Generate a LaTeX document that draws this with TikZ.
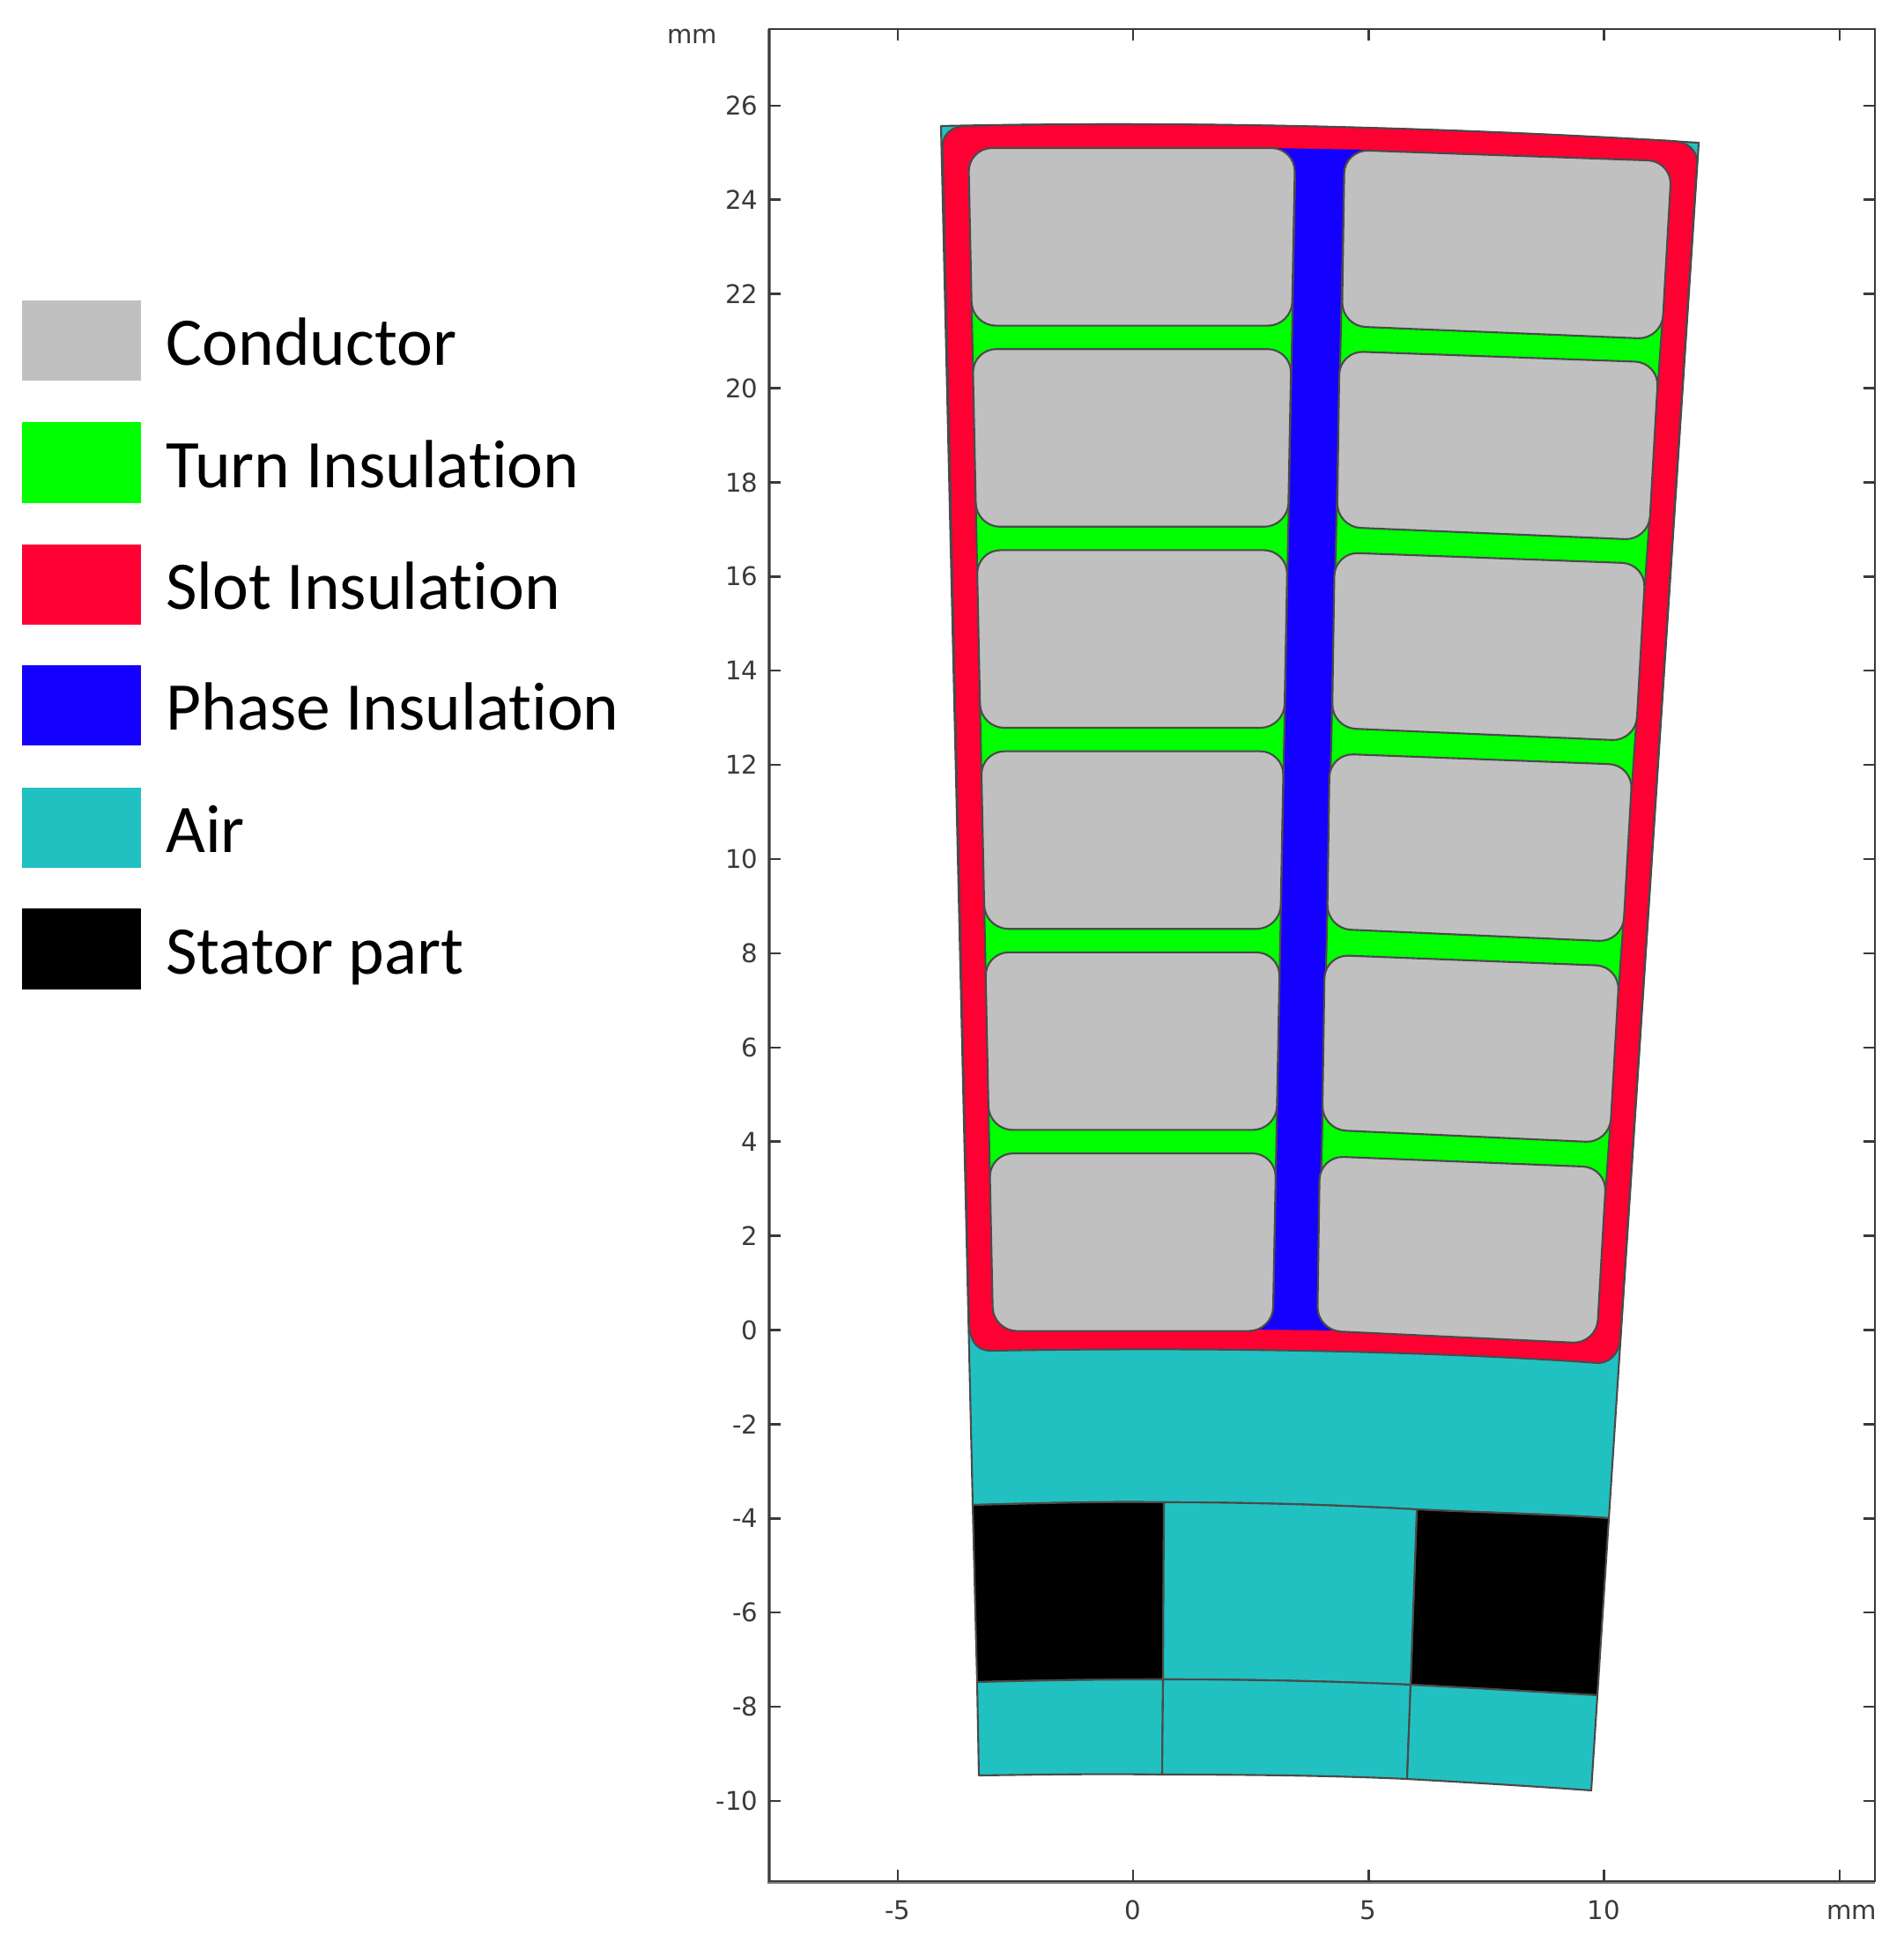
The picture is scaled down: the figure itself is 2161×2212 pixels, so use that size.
\documentclass[tikz,border=0pt]{standalone}
\usepackage{fontspec}
\usetikzlibrary{positioning}
\newfontfamily\legendfont[Ligatures=NoCommon]{Carlito}
\newfontfamily\axisfont{DejaVu Sans}
\definecolor{condgray}{HTML}{C0C0C0}
\definecolor{turngreen}{HTML}{00FF00}
\definecolor{slotred}{HTML}{FF0033}
\definecolor{phaseblue}{HTML}{1400FF}
\definecolor{aircyan}{HTML}{21C1C2}
\definecolor{edgegray}{HTML}{4A4A4A}
\definecolor{axisgray}{HTML}{3A3A3A}
\begin{document}
\begin{tikzpicture}[x=0.01cm,y=-0.01cm]
\tikzset{swatch/.style={inner sep=0pt,minimum width=1.35cm,minimum height=0.91cm},
         legtext/.style={inner sep=0pt,yshift=-0.04cm,font=\legendfont\fontsize{22pt}{26}\selectfont,text height=13.7pt,text depth=0pt},
         ticklab/.style={inner sep=0pt,text=axisgray,font=\axisfont\fontsize{8.3pt}{10}\selectfont},
         region/.style={draw=edgegray,line width=0.6pt,line join=round},
         turn/.style={fill=condgray,region,rounded corners=0.27cm}}
\useasboundingbox (0,0) rectangle (2161,2212);

        % legend
        \node[swatch,fill=condgray]                (sw1) at (92.5,386.5) {};
        \node[legtext,right=0.27cm of sw1]         (t1)                  {Conductor};
        \node[swatch,fill=turngreen]               (sw2) at (92.5,525)   {};
        \node[legtext,right=0.27cm of sw2]         (t2)                  {Turn Insulation};
        \node[swatch,fill=slotred]                 (sw3) at (92.5,663.5) {};
        \node[legtext,right=0.27cm of sw3]         (t3)                  {Slot Insulation};
        \node[swatch,fill=phaseblue]               (sw4) at (92.5,800.5) {};
        \node[legtext,right=0.27cm of sw4]         (t4)                  {Phase Insulation};
        \node[swatch,fill=aircyan]                 (sw5) at (92.5,939.5) {};
        \node[legtext,right=0.27cm of sw5]         (t5)                  {Air};
        \node[swatch,fill=black]                   (sw6) at (92.5,1077)  {};
        \node[legtext,right=0.27cm of sw6]         (t6)                  {Stator part};

        % axes
        \draw[gray,line width=1.2pt] (873,33) -- (873,2136) -- (2128,2136);
        \draw[axisgray,line width=0.7pt] (873,33) rectangle (2128,2135);
        \foreach \yv in {26,24,...,-10}{
            \pgfmathsetmacro{\ypos}{1509.5-53.45*\yv}
            \draw[axisgray,line width=0.7pt] (873,\ypos) -- (886,\ypos);
            \draw[axisgray,line width=0.7pt] (2128,\ypos) -- (2115,\ypos);
            \node[ticklab,anchor=east] (yl\yv) at (861,\ypos) {\yv};
        }
        \foreach \xv in {-5,0,5,10,15}{
            \pgfmathsetmacro{\xpos}{1286+53.45*\xv}
            \draw[axisgray,line width=0.7pt] (\xpos,33) -- (\xpos,46);
            \draw[axisgray,line width=0.7pt] (\xpos,2135) -- (\xpos,2122);
        }
        \foreach \xv in {-5,0,5,10}{
            \pgfmathsetmacro{\xpos}{1286+53.45*\xv}
            \node[ticklab] (xl\xv) at (\xpos,2168) {\xv};
        }
        \node[ticklab,anchor=east] (xunit) at (2131,2170) {mm};
        \node[ticklab,anchor=east] (yunit) at (815,41)    {mm};

        % air behind the slot
        \path[fill=aircyan,region] (1068,143) .. controls (1350,137) and (1640,145) .. (1928,162)
            -- (1826,1723) .. controls (1756,1718) and (1686,1717) .. (1608,1713)
            .. controls (1518,1708) and (1420,1705) .. (1321,1705)
            .. controls (1250,1704) and (1180,1706) .. (1104,1708) -- cycle;

        % slot insulation
        \path[fill=slotred,region] (1070,168) .. controls (1069,154) and (1078,144) .. (1095,143)
            .. controls (1360,137) and (1640,145) .. (1898,160)
            .. controls (1915,161) and (1927,170) .. (1926,186)
            -- (1839,1518) .. controls (1838,1532) and (1832,1545) .. (1815,1547)
            .. controls (1650,1535) and (1400,1528) .. (1125,1533)
            .. controls (1110,1533) and (1102,1524) .. (1100,1506) -- cycle;

        % turn insulation between the conductors
        \foreach \i in {0,...,4}{
            \pgfmathsetmacro{\ya}{168+228.2*\i+201.6-30}
            \pgfmathsetmacro{\yb}{168+228.2*(\i+1)+30}
            \pgfmathsetmacro{\xal}{1099+0.021*(\ya-168)}
            \pgfmathsetmacro{\xar}{1470-0.019*(\ya-168)}
            \pgfmathsetmacro{\xbl}{1099+0.021*(\yb-168)}
            \pgfmathsetmacro{\xbr}{1470-0.019*(\yb-168)}
            \path[fill=turngreen] (\xal,\ya) -- (\xar,\ya) -- (\xbr,\yb) -- (\xbl,\yb) -- cycle;
            \draw[edgegray,line width=0.6pt] (\xal,\ya) -- (\xbl,\yb);
            \pgfmathsetmacro{\rla}{1523-5.6*\i}
            \pgfmathsetmacro{\rya}{370+228*\i-30}
            \pgfmathsetmacro{\rra}{1886-14.8*\i+1.4}
            \pgfmathsetmacro{\rza}{385+228*\i-30}
            \pgfmathsetmacro{\rlb}{1526-5.6*(\i+1)}
            \pgfmathsetmacro{\ryb}{170+228.4*(\i+1)+30}
            \pgfmathsetmacro{\rrb}{1897.5-14.8*(\i+1)-1.4}
            \pgfmathsetmacro{\rzb}{183+228.4*(\i+1)+30}
            \path[fill=turngreen] (\rla,\rya) -- (\rra,\rza) -- (\rrb,\rzb) -- (\rlb,\ryb) -- cycle;
            \draw[edgegray,line width=0.6pt] (\rra,\rza) -- (\rrb,\rzb);
        }

        % phase insulation
        \path[fill=phaseblue] (1440,168) -- (1556,170) -- (1556,198) -- (1526,198) -- (1496,1482)
            -- (1526,1482) -- (1526,1510) -- (1414,1509) -- (1414,1482) -- (1445,1482) -- (1470,198)
            -- (1440,198) -- cycle;
        \draw[edgegray,line width=0.6pt] (1470,198) -- (1445,1482);
        \draw[edgegray,line width=0.6pt] (1526,198) -- (1496,1482);

        % conductors
        \foreach \i in {0,...,5}{
            \pgfmathsetmacro{\ya}{168+228.2*\i}
            \pgfmathsetmacro{\yb}{\ya+201.6}
            \pgfmathsetmacro{\xal}{1099+0.021*(\ya-168)}
            \pgfmathsetmacro{\xar}{1470-0.019*(\ya-168)}
            \pgfmathsetmacro{\xbl}{1099+0.021*(\yb-168)}
            \pgfmathsetmacro{\xbr}{1470-0.019*(\yb-168)}
            \draw[turn] (\xal,\ya) -- (\xar,\ya) -- (\xbr,\yb) -- (\xbl,\yb) -- cycle;
            \pgfmathsetmacro{\rla}{1526-5.6*\i}
            \pgfmathsetmacro{\rya}{170+228.4*\i}
            \pgfmathsetmacro{\rra}{1897.5-14.8*\i}
            \pgfmathsetmacro{\rza}{183+228.4*\i}
            \pgfmathsetmacro{\rlb}{1523-5.6*\i}
            \pgfmathsetmacro{\ryb}{370+228*\i}
            \pgfmathsetmacro{\rrb}{1886-14.8*\i}
            \pgfmathsetmacro{\rzb}{385+228*\i}
            \draw[turn] (\rla,\rya) -- (\rra,\rza) -- (\rrb,\rzb) -- (\rlb,\ryb) -- cycle;
        }

        % stator part and the air round it
        \path[fill=black,region] (1104,1708) .. controls (1180,1706) and (1250,1704) .. (1321,1705)
            -- (1320,1906) .. controls (1250,1906) and (1180,1907) .. (1109,1909) -- cycle;
        \path[fill=black,region] (1608,1713) .. controls (1686,1717) and (1756,1718) .. (1826,1723)
            -- (1813,1924) .. controls (1746,1920) and (1676,1916) .. (1601,1912) -- cycle;
        \path[fill=aircyan,region] (1321,1705) .. controls (1420,1705) and (1518,1708) .. (1608,1713)
            -- (1601,1912) .. controls (1510,1908) and (1420,1906) .. (1320,1906) -- cycle;
        \path[fill=aircyan,region] (1109,1909) .. controls (1180,1907) and (1250,1906) .. (1320,1906)
            -- (1319,2014) .. controls (1250,2013) and (1180,2014) .. (1111,2015) -- cycle;
        \path[fill=aircyan,region] (1320,1906) .. controls (1420,1906) and (1510,1908) .. (1601,1912)
            -- (1597,2019) .. controls (1510,2015) and (1410,2014) .. (1319,2014) -- cycle;
        \path[fill=aircyan,region] (1601,1912) .. controls (1676,1916) and (1746,1920) .. (1813,1924)
            -- (1806,2032) .. controls (1737,2027) and (1667,2023) .. (1597,2019) -- cycle;

\end{tikzpicture}
\end{document}
